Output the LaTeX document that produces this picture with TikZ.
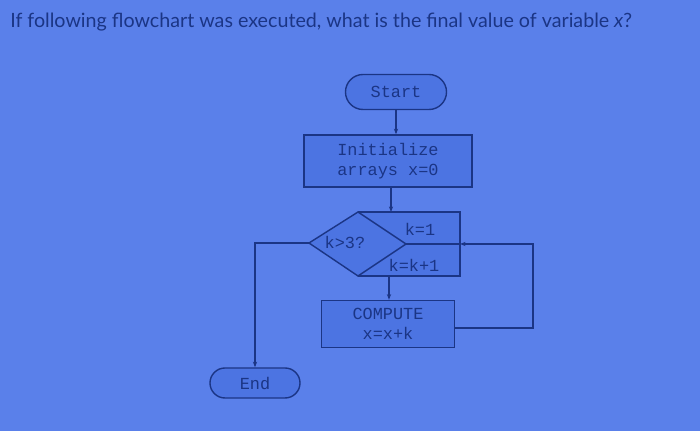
\documentclass[tikz,border=0pt]{standalone}
\usepackage{fontspec}
\setmainfont{Lato}
\setmonofont{Liberation Mono}
\usepackage{tikz}
\usetikzlibrary{arrows.meta}

\definecolor{screen}{HTML}{5A80EA}
\definecolor{boxfill}{HTML}{4C74E2}
\definecolor{ink}{HTML}{1B3585}

\tikzset{
  line/.style={draw=ink, line width=1pt},
  flow/.style={line, -{Stealth[length=4pt,width=3pt]}},
  term/.style={line, fill=boxfill, rounded corners=#1, inner sep=0pt,
    font=\ttfamily\fontsize{12}{14}\selectfont, text=ink},
  proc/.style={line, fill=boxfill, inner sep=0pt, align=center,
    font=\ttfamily\fontsize{12}{14}\selectfont, text=ink},
  label/.style={inner sep=0pt, font=\ttfamily\fontsize{12}{14}\selectfont, text=ink}
}

\begin{document}
\begin{tikzpicture}[x=0.025cm,y=-0.025cm]
\fill[screen] (0,0) rectangle (700,431);
\useasboundingbox (0,0) rectangle (700,431);

% question
\node[anchor=west, inner sep=0pt, text=ink, font=\fontsize{14}{17}\selectfont] (title) at (10,22)
  {If following flowchart was executed, what is the final value of variable \textit{x}?};

% terminals and boxes
\node[term=0.4375cm, minimum width=2.525cm, minimum height=0.875cm] (start) at (396,92) {Start};
\node[proc, minimum width=4.2cm, minimum height=1.3cm] (initbox) at (388,161) {Initialize\\arrays x=0};
\node[proc, minimum width=3.325cm, minimum height=1.175cm] (compute) at (388,324) {COMPUTE\\x=x+k};
\node[term=0.375cm, minimum width=2.25cm, minimum height=0.75cm] (end) at (255,383) {End};

% loop symbol
\coordinate (dl) at (309,243);
\coordinate (dt) at (358,212);
\coordinate (dr) at (406,244);
\coordinate (db) at (358,276);
\coordinate (bt) at (460,212);
\coordinate (bm) at (460,244);
\coordinate (bb) at (460,276);
\fill[boxfill] (dl) -- (dt) -- (bt) -- (bb) -- (db) -- cycle;
\draw[line] (dt) -- (bt) -- (bb) -- (db);
\draw[line] (dl) -- (dt) -- (dr) -- (db) -- cycle;
\draw[line] (dr) -- (bm);
\node[label] (cond) at (345,242) {k>3?};
\node[label] (kinit) at (420,229) {k=1};
\node[label] (kstep) at (414,265) {k=k+1};

% connectors
\coordinate (intop) at (391,212);
\coordinate (inbot) at (389,276);
\coordinate (loopr) at (533,328);
\coordinate (exitl) at (255,243);
\draw[flow] (start.south) -- (start.south |- initbox.north);
\draw[flow] (intop |- initbox.south) -- (intop);
\draw[flow] (inbot) -- (inbot |- compute.north);
\draw[flow] (compute.east |- loopr) -- (loopr) |- (bm);
\draw[flow] (dl) -- (exitl) -- (end.north);
\end{tikzpicture}
\end{document}
